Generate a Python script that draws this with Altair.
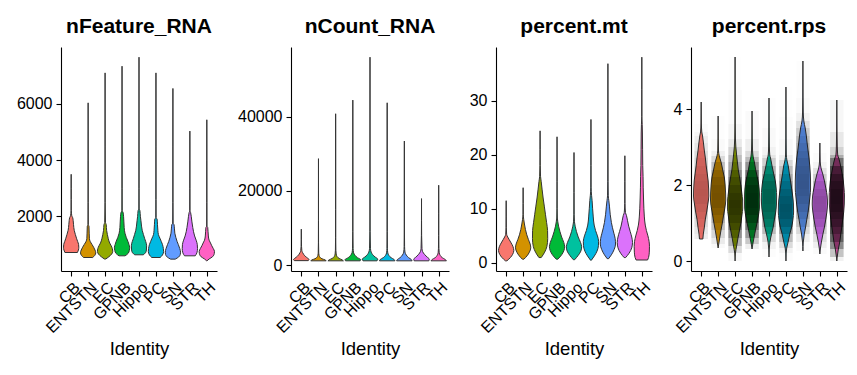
import altair as alt
import pandas as pd

GROUPS = ["CB", "ENTSTN", "EC", "GPNB", "Hippo", "PC", "SN", "STR", "TH"]
COLORS = ["#F8766D", "#D39200", "#93AA00", "#00BA38", "#00C19F",
          "#00B9E3", "#619CFF", "#DB72FB", "#FF61C3"]
METRICS = ["nFeature_RNA", "nCount_RNA", "percent.mt", "percent.rps"]

# violin profiles: (value, relative width), one list per identity
NFEATURE = [
    [(711, 0.82), (800, 0.95), (900, 1.0), (1000, 0.97), (1100, 0.85), (1200, 0.72), (1350, 0.55), (1500, 0.4), (1700, 0.31), (1850, 0.26), (1950, 0.2), (2020, 0.08), (2200, 0.02), (2600, 0.01), (3000, 0.005), (3495, 0)],
    [(533, 0.6), (600, 0.85), (700, 1.0), (800, 0.9), (900, 0.72), (1000, 0.5), (1100, 0.28), (1200, 0.17), (1400, 0.14), (1650, 0.11), (1700, 0.02), (2500, 0.008), (4000, 0.004), (6038, 0)],
    [(480, 0.1), (560, 0.5), (650, 0.85), (750, 1.0), (850, 0.95), (950, 0.8), (1050, 0.6), (1200, 0.42), (1350, 0.3), (1500, 0.2), (1700, 0.15), (1780, 0.05), (2500, 0.01), (4500, 0.004), (7104, 0)],
    [(593, 0.4), (680, 0.8), (780, 0.95), (900, 1.0), (1000, 0.9), (1100, 0.78), (1250, 0.55), (1400, 0.38), (1600, 0.28), (1800, 0.24), (2000, 0.2), (2150, 0.12), (2200, 0.02), (3000, 0.01), (5000, 0.004), (7342, 0)],
    [(629, 0.55), (700, 0.85), (800, 0.97), (950, 1.0), (1100, 0.88), (1200, 0.75), (1350, 0.58), (1500, 0.42), (1650, 0.33), (1850, 0.25), (2000, 0.18), (2200, 0.12), (2260, 0.02), (3000, 0.01), (5000, 0.004), (7663, 0)],
    [(533, 0.55), (620, 0.85), (750, 1.0), (850, 0.97), (1000, 0.85), (1100, 0.7), (1200, 0.55), (1350, 0.32), (1500, 0.25), (1700, 0.2), (1900, 0.15), (1950, 0.02), (2600, 0.01), (4500, 0.004), (7104, 0)],
    [(475, 0.3), (550, 0.75), (650, 0.97), (720, 1.0), (850, 0.9), (1000, 0.7), (1100, 0.55), (1250, 0.38), (1400, 0.25), (1550, 0.2), (1700, 0.15), (1750, 0.03), (2500, 0.01), (4500, 0.004), (6550, 0)],
    [(593, 0.7), (700, 0.92), (850, 1.0), (1000, 0.97), (1150, 0.82), (1300, 0.62), (1450, 0.48), (1600, 0.38), (1800, 0.27), (2000, 0.18), (2130, 0.1), (2200, 0.02), (3000, 0.01), (4000, 0.004), (5033, 0)],
    [(415, 0.02), (480, 0.3), (560, 0.75), (680, 0.98), (750, 1.0), (850, 0.85), (950, 0.65), (1050, 0.48), (1150, 0.3), (1300, 0.2), (1450, 0.16), (1600, 0.12), (1650, 0.02), (2500, 0.01), (4000, 0.004), (5435, 0)],
]

NCOUNT = [
    [(1200, 0.9), (1500, 1.0), (1900, 0.8), (2400, 0.5), (2900, 0.3), (3400, 0.16), (3900, 0.07), (5000, 0.03), (7000, 0.01), (9690, 0)],
    [(1150, 1.0), (1400, 0.85), (1700, 0.45), (2100, 0.2), (2600, 0.08), (3500, 0.03), (6000, 0.01), (12000, 0.004), (20000, 0.002), (28700, 0)],
    [(1150, 1.0), (1400, 0.85), (1800, 0.45), (2300, 0.18), (3000, 0.07), (4000, 0.03), (7500, 0.01), (15000, 0.003), (40810, 0)],
    [(1150, 0.95), (1500, 1.0), (2000, 0.6), (2600, 0.3), (3300, 0.1), (4500, 0.04), (9000, 0.01), (20000, 0.003), (44500, 0)],
    [(1150, 0.9), (1600, 1.0), (2200, 0.65), (2800, 0.35), (3500, 0.15), (4500, 0.06), (9000, 0.015), (20000, 0.004), (56070, 0)],
    [(1150, 1.0), (1500, 0.9), (2000, 0.5), (2600, 0.22), (3300, 0.08), (4500, 0.03), (9000, 0.01), (20000, 0.003), (43770, 0)],
    [(1150, 1.0), (1500, 0.9), (2000, 0.55), (2700, 0.25), (3500, 0.08), (5000, 0.03), (10000, 0.01), (20000, 0.003), (33460, 0)],
    [(1150, 0.95), (1600, 1.0), (2200, 0.7), (2900, 0.38), (3600, 0.15), (4500, 0.06), (8000, 0.015), (12000, 0.005), (17930, 0)],
    [(1150, 1.0), (1500, 0.85), (2000, 0.45), (2600, 0.2), (3300, 0.07), (4500, 0.03), (8000, 0.01), (14000, 0.003), (21540, 0)],
]

PERCENT_MT = [
    [(0.4, 0.1), (1.0, 0.55), (1.6, 0.85), (2.3, 1.0), (3.0, 0.9), (3.7, 0.65), (4.3, 0.4), (4.8, 0.2), (5.3, 0.06), (6.5, 0.02), (8.5, 0.01), (11.5, 0)],
    [(0.7, 0.1), (1.3, 0.5), (2.0, 0.82), (2.8, 1.0), (3.5, 0.92), (4.3, 0.7), (5.2, 0.48), (6.2, 0.3), (7.2, 0.17), (8.0, 0.08), (9.0, 0.02), (11.0, 0.01), (13.9, 0)],
    [(1.0, 0.15), (2.0, 0.6), (3.0, 0.88), (4.5, 1.0), (6.0, 0.98), (7.5, 0.85), (9.0, 0.7), (10.5, 0.55), (12.0, 0.4), (13.5, 0.27), (15.0, 0.15), (16.0, 0.06), (18.0, 0.02), (21.0, 0.01), (24.4, 0)],
    [(0.7, 0.1), (1.5, 0.6), (2.3, 0.9), (3.0, 1.0), (3.8, 0.88), (4.8, 0.6), (5.8, 0.38), (6.8, 0.2), (7.6, 0.1), (8.3, 0.04), (10.0, 0.015), (15.0, 0.005), (23.3, 0)],
    [(0.6, 0.08), (1.4, 0.55), (2.2, 0.9), (3.0, 1.0), (3.8, 0.85), (4.8, 0.55), (5.8, 0.32), (6.8, 0.15), (7.6, 0.06), (9.0, 0.02), (13.0, 0.008), (20.4, 0)],
    [(0.5, 0.05), (1.3, 0.45), (2.2, 0.8), (3.2, 0.98), (4.0, 1.0), (5.0, 0.85), (6.0, 0.6), (7.0, 0.42), (8.5, 0.3), (10.0, 0.22), (11.5, 0.15), (12.5, 0.08), (14.0, 0.02), (18.0, 0.01), (26.5, 0)],
    [(0.8, 0.1), (1.5, 0.45), (2.5, 0.82), (3.5, 1.0), (4.5, 0.95), (5.5, 0.78), (6.5, 0.6), (7.5, 0.45), (9.0, 0.3), (10.5, 0.2), (11.5, 0.12), (12.4, 0.05), (15.0, 0.02), (22.0, 0.008), (36.8, 0)],
    [(1.0, 0.1), (1.8, 0.55), (2.8, 0.9), (3.8, 1.0), (4.8, 0.9), (5.8, 0.7), (6.8, 0.5), (7.8, 0.35), (8.8, 0.2), (9.3, 0.08), (11.0, 0.02), (15.0, 0.008), (19.8, 0)],
    [(0.55, 0.75), (1.0, 0.88), (2.0, 0.98), (3.0, 1.0), (4.0, 0.95), (5.0, 0.8), (6.0, 0.6), (7.0, 0.45), (8.5, 0.33), (10.0, 0.27), (12.0, 0.22), (14.0, 0.18), (16.0, 0.16), (18.0, 0.12), (21.0, 0.1), (24.0, 0.08), (25.6, 0.05), (27.0, 0.01), (32.0, 0.005), (38.0, 0)],
]

PERCENT_RPS = [
    [(0.57, 0.22), (0.7, 0.28), (0.9, 0.42), (1.1, 0.55), (1.3, 0.72), (1.5, 0.88), (1.7, 1.0), (1.9, 0.98), (2.1, 0.92), (2.3, 0.8), (2.5, 0.66), (2.7, 0.55), (2.9, 0.42), (3.1, 0.3), (3.3, 0.18), (3.4, 0.08), (3.6, 0.03), (4.19, 0)],
    [(0.33, 0), (0.45, 0.08), (0.6, 0.2), (0.8, 0.38), (1.0, 0.55), (1.2, 0.72), (1.4, 0.88), (1.6, 1.0), (1.8, 0.98), (2.0, 0.92), (2.2, 0.8), (2.4, 0.6), (2.6, 0.38), (2.76, 0.15), (2.9, 0.05), (3.2, 0.02), (3.82, 0)],
    [(0.0, 0), (0.2, 0.05), (0.4, 0.2), (0.6, 0.38), (0.8, 0.58), (1.0, 0.76), (1.2, 0.9), (1.4, 1.0), (1.6, 0.98), (1.8, 0.88), (2.0, 0.75), (2.2, 0.58), (2.4, 0.42), (2.6, 0.3), (2.8, 0.2), (3.0, 0.1), (3.2, 0.05), (3.6, 0.02), (4.5, 0.008), (5.37, 0)],
    [(0.31, 0), (0.45, 0.1), (0.6, 0.25), (0.8, 0.45), (1.0, 0.65), (1.2, 0.85), (1.4, 0.97), (1.6, 1.0), (1.8, 0.97), (2.0, 0.88), (2.2, 0.68), (2.4, 0.48), (2.6, 0.3), (2.75, 0.15), (2.9, 0.07), (3.2, 0.03), (3.95, 0)],
    [(0.09, 0), (0.3, 0.03), (0.5, 0.12), (0.7, 0.33), (0.9, 0.55), (1.1, 0.72), (1.3, 0.88), (1.5, 0.98), (1.7, 1.0), (1.9, 0.95), (2.1, 0.82), (2.3, 0.62), (2.5, 0.4), (2.7, 0.2), (2.8, 0.1), (3.0, 0.05), (3.5, 0.02), (4.3, 0)],
    [(0.0, 0), (0.2, 0.03), (0.35, 0.1), (0.5, 0.28), (0.7, 0.5), (0.9, 0.75), (1.1, 0.92), (1.3, 1.0), (1.5, 0.98), (1.7, 0.88), (1.9, 0.75), (2.1, 0.6), (2.3, 0.45), (2.5, 0.3), (2.65, 0.12), (2.8, 0.05), (3.2, 0.02), (3.8, 0.008), (4.58, 0)],
    [(0.26, 0), (0.5, 0.05), (0.7, 0.18), (0.9, 0.35), (1.1, 0.52), (1.3, 0.68), (1.5, 0.82), (1.7, 0.93), (1.9, 1.0), (2.1, 1.0), (2.3, 0.97), (2.5, 0.9), (2.7, 0.8), (2.9, 0.68), (3.1, 0.55), (3.3, 0.45), (3.5, 0.3), (3.68, 0.12), (3.9, 0.05), (4.3, 0.02), (5.28, 0)],
    [(0.18, 0), (0.35, 0.08), (0.5, 0.2), (0.7, 0.4), (0.9, 0.6), (1.1, 0.78), (1.3, 0.92), (1.5, 1.0), (1.7, 0.95), (1.9, 0.8), (2.1, 0.6), (2.3, 0.38), (2.45, 0.15), (2.6, 0.05), (2.85, 0.02), (3.11, 0)],
    [(0.0, 0), (0.1, 0.05), (0.3, 0.2), (0.5, 0.38), (0.7, 0.52), (0.9, 0.65), (1.1, 0.78), (1.3, 0.9), (1.5, 0.98), (1.7, 1.0), (1.9, 0.95), (2.1, 0.85), (2.3, 0.7), (2.5, 0.5), (2.7, 0.25), (2.8, 0.12), (3.0, 0.06), (3.4, 0.03), (4.24, 0)],
]

# how crowded the jittered cells are in the percent.rps panel (per identity)
RPS_POINT_CROWDING = [0.3, 0.6, 1.2, 1.4, 0.7, 0.8, 0.6, 0.45, 2.1]

NFEATURE_TICKS = [2000, 4000, 6000]
NCOUNT_TICKS = [0, 20000, 40000]
MT_TICKS = [0, 10, 20, 30]
RPS_TICKS = [0, 2, 4]

PROFILES = [NFEATURE, NCOUNT, PERCENT_MT, PERCENT_RPS]
TICKS = [NFEATURE_TICKS, NCOUNT_TICKS, MT_TICKS, RPS_TICKS]
WIDTHS = [156, 158, 156, 156]
HEIGHT = 224

LABEL_EXPR = "[" + ",".join("'%s'" % g for g in GROUPS) + "][datum.value - 1]"


def violin_table(profiles):
    rows = []
    for i, (g, prof) in enumerate(zip(GROUPS, profiles)):
        for v, w in prof:
            rows.append({"group": g, "idx": i + 1, "value": v, "w": w})
    return pd.DataFrame(rows)


def cloud_table(profiles):
    rows = []
    for i, (g, prof) in enumerate(zip(GROUPS, profiles)):
        for (v1, w1), (v2, w2) in zip(prof[:-1], prof[1:]):
            rows.append({"group": g, "idx": i + 1, "lo": v1, "hi": v2,
                         "w": (w1 + w2) / 2, "k": RPS_POINT_CROWDING[i]})
    return pd.DataFrame(rows)


def panel(metric, profiles, ticks, width, with_points=False):
    df = violin_table(profiles)
    vmin, vmax = df["value"].min(), df["value"].max()
    pad = 0.05 * (vmax - vmin)
    yscale = alt.Scale(domain=[vmin - pad, vmax + pad], nice=False, zero=False,
                       round=with_points)
    xscale = alt.Scale(domain=[0.4, 9.6], nice=False, zero=False)
    xaxis = alt.Axis(values=list(range(1, 10)), labelExpr=LABEL_EXPR,
                     labelAngle=-45, labelAlign="right", labelBaseline="top",
                     labelFlush=False, labelOverlap=False, grid=False,
                     title="Identity", tickSize=5, labelPadding=3, titlePadding=4)
    yaxis = alt.Axis(values=ticks, format="d", grid=False, tickSize=5,
                     labelPadding=4, labelFlush=False, labelOverlap=False)

    violins = alt.Chart(df).transform_calculate(
        left="datum.idx - 0.45 * datum.w",
        right="datum.idx + 0.45 * datum.w",
    ).mark_area(orient="horizontal", stroke="#333333", strokeWidth=1,
                interpolate="monotone").encode(
        y=alt.Y("value:Q", scale=yscale, axis=yaxis, title=None),
        x=alt.X("left:Q", scale=xscale, axis=xaxis, stack=None),
        x2="right:Q",
        color=alt.Color("group:N", scale=alt.Scale(domain=GROUPS, range=COLORS), legend=None),
    )
    layers = [violins]
    if with_points:
        cdf = cloud_table(profiles)
        cloud = alt.Chart(cdf).transform_calculate(
            xa="datum.idx - 0.4",
            xb="datum.idx + 0.4",
            op="1 - exp(-datum.k * datum.w)",
        ).mark_rect(color="black").encode(
            x=alt.X("xa:Q", scale=xscale, axis=xaxis),
            x2="xb:Q",
            y=alt.Y("lo:Q", scale=yscale, axis=yaxis, title=None),
            y2="hi:Q",
            opacity=alt.Opacity("op:Q", scale=None),
        )
        layers.append(cloud)
    return alt.layer(*layers).properties(
        width=width, height=HEIGHT,
        title=alt.TitleParams(text=metric, fontSize=21, fontWeight="bold",
                              anchor="middle", offset=10, color="black"),
    )


panels = [panel(m, p, t, w, with_points=(m == "percent.rps"))
          for m, p, t, w in zip(METRICS, PROFILES, TICKS, WIDTHS)]

chart = alt.hconcat(*panels, spacing=18).properties(
    padding={"left": 16, "top": 16, "right": 5, "bottom": 5},
    background="white",
).configure(font="Liberation Sans").configure_view(strokeWidth=0).configure_axis(
    labelFontSize=16, labelColor="black", tickColor="black", domainColor="black",
    titleFontSize=18.5, titleFontWeight="normal", titleColor="black",
    domainWidth=1.1, tickWidth=1.1,
)

chart.save("out.html", embed_options={"renderer": "svg", "actions": False})
